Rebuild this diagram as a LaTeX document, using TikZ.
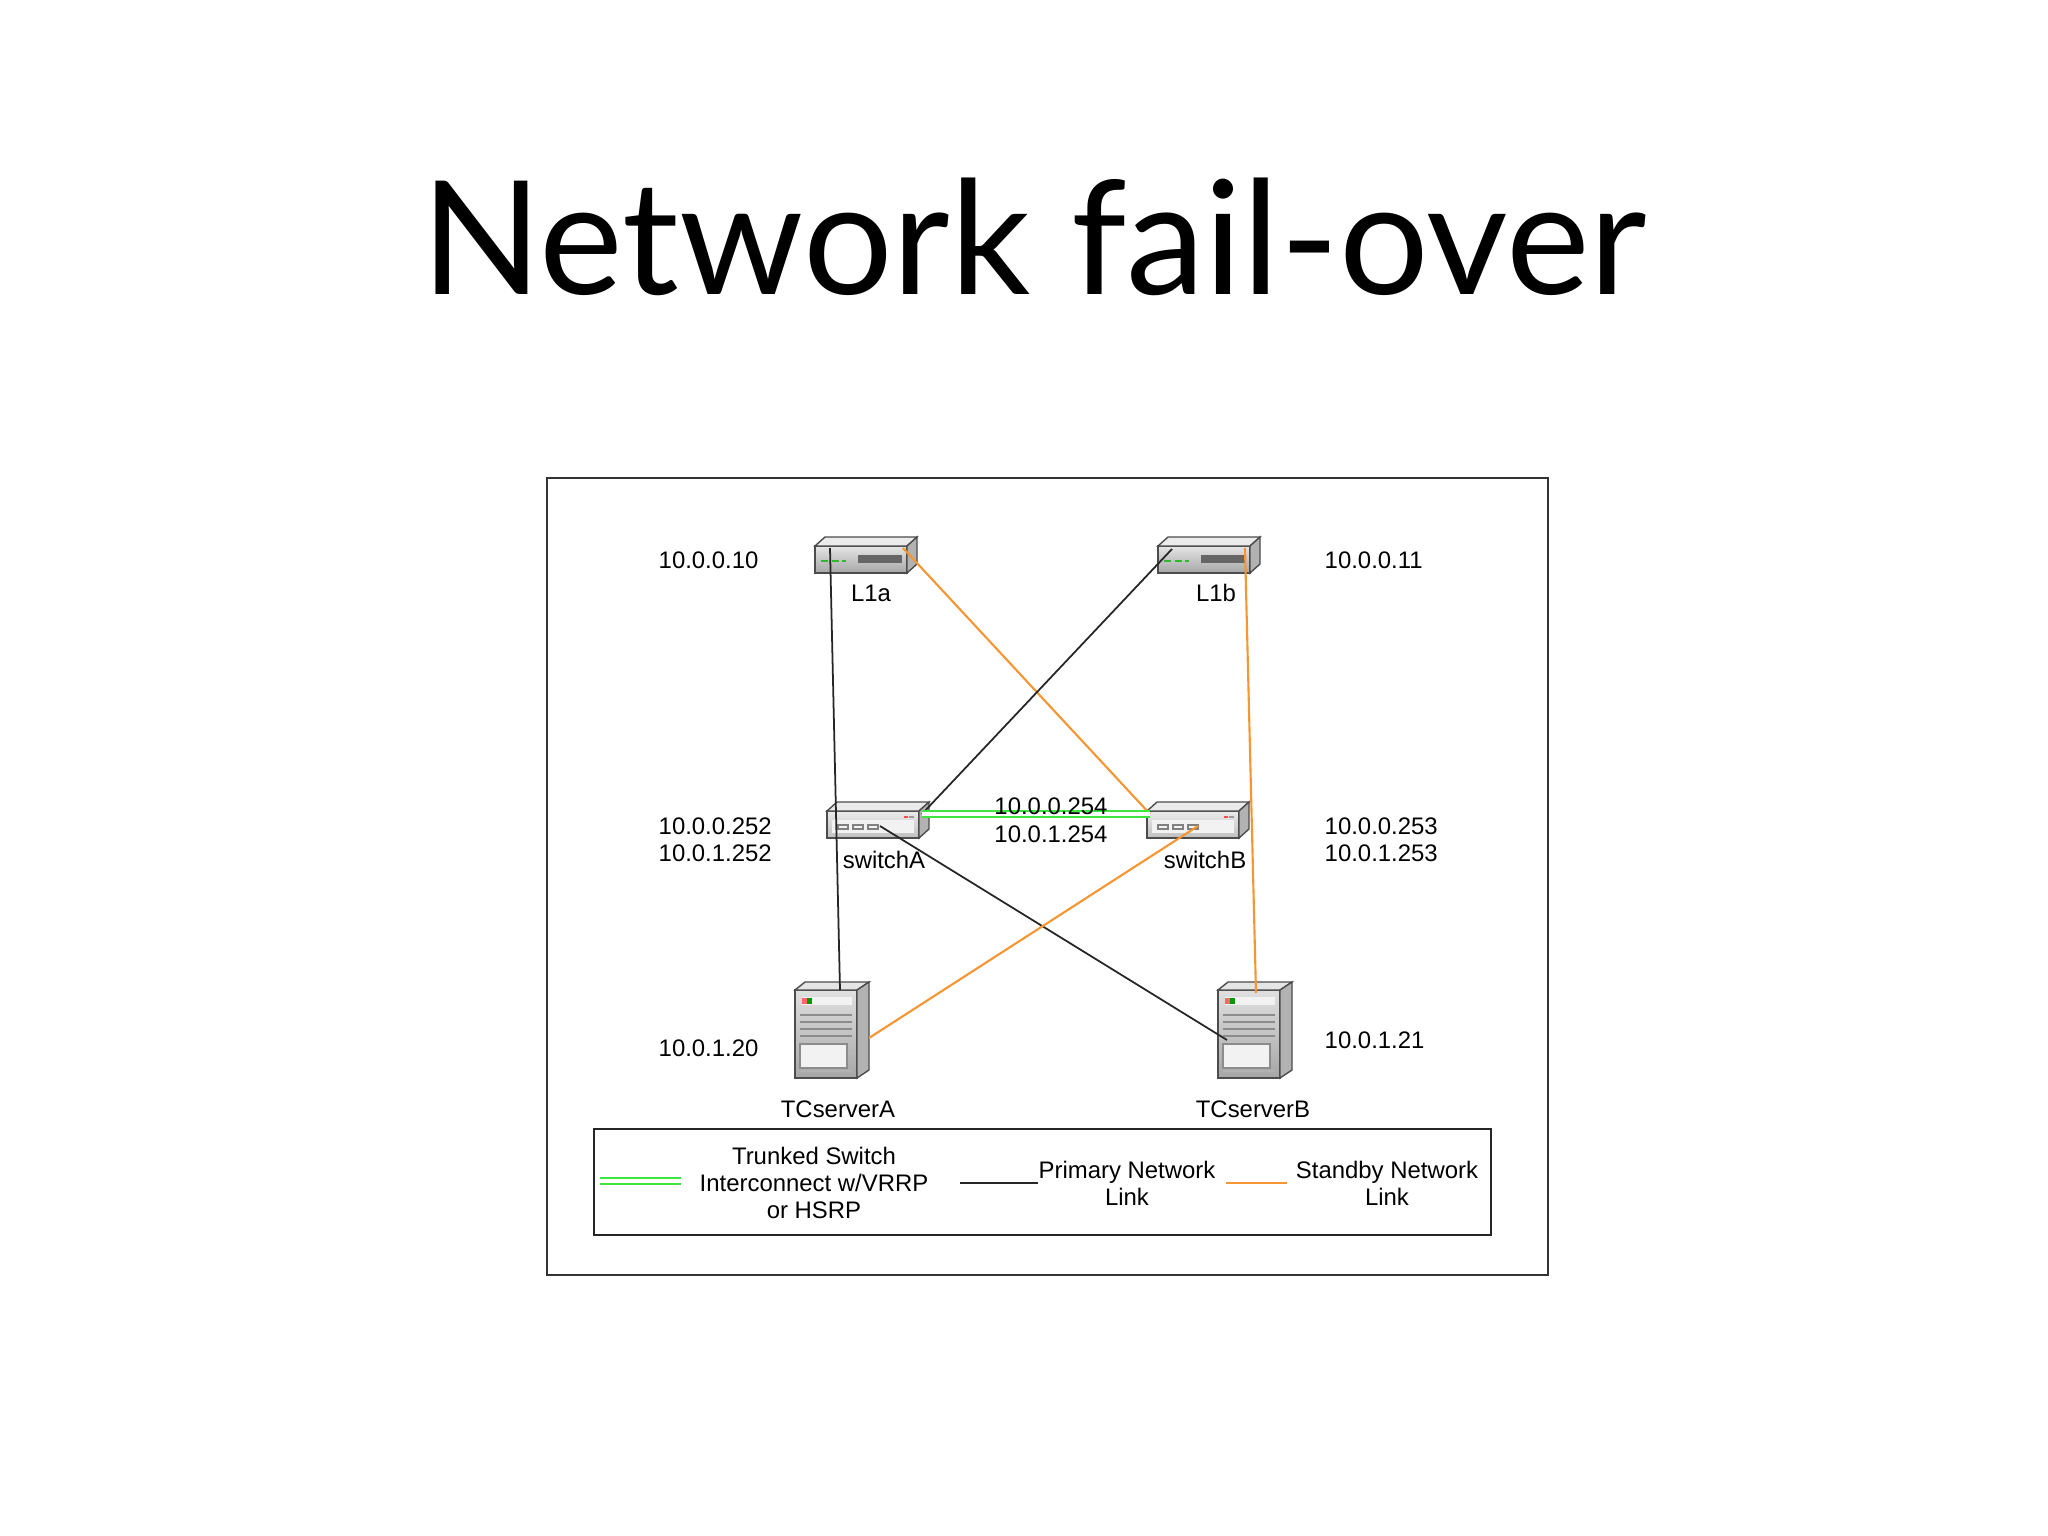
\documentclass[tikz,border=0pt]{standalone}
\usepackage{fontspec}
\setmainfont{Liberation Sans}
\newfontfamily\titlefont{Lato}
\usetikzlibrary{calc}
\definecolor{stdby}{RGB}{245,150,50}
\definecolor{trunk}{RGB}{60,230,60}
\tikzset{
  primary/.style={draw=black!85, line width=0.5pt},
  standby/.style={draw=stdby, line width=0.6pt},
  lbl/.style={font=\fontsize{6.8}{7.6}\selectfont, inner sep=0pt},
  ip/.style={lbl, anchor=west, align=left},
  face/.style={draw=black!70, line width=0.4pt},
  pics/router/.style={code={
    \path[face, top color=black!10, bottom color=black!35] (-51,-8) rectangle (41,19);
    \path[face, fill=black!8] (-51,-8)--(-41,-17)--(51,-17)--(41,-8)--cycle;
    \path[face, fill=black!30] (41,-8)--(51,-17)--(51,10)--(41,19)--cycle;
    \draw[trunk!80!black, line width=0.8pt, dash pattern=on 2pt off 1pt] (-45,7)--(-20,7);
    \fill[black!60] (-8,1) rectangle (36,9);
  }},
  pics/switch/.style={code={
    \path[face, top color=black!8, bottom color=black!25] (-51,-8) rectangle (41,19);
    \path[face, fill=black!8] (-51,-8)--(-41,-17)--(51,-17)--(41,-8)--cycle;
    \path[face, fill=black!30] (41,-8)--(51,-17)--(51,10)--(41,19)--cycle;
    \fill[black!5] (-46,1) rectangle (36,14);
    \foreach \p in {-40,-25,-10} \draw[black!50] (\p,6) rectangle (\p+10,10);
    \fill[red!70] (26,-3) rectangle (30,-1);
    \fill[black!40] (31,-3) rectangle (36,-1);
  }},
  pics/server/.style={code={
    \path[face, top color=black!12, bottom color=black!35] (-37,-40) rectangle (25,48);
    \path[face, fill=black!10] (-37,-40)--(-27,-48)--(37,-48)--(25,-40)--cycle;
    \path[face, fill=black!30] (25,-40)--(37,-48)--(37,40)--(25,48)--cycle;
    \fill[black!5] (-30,-33) rectangle (20,-25);
    \fill[red!60] (-30,-32) rectangle (-25,-26);
    \fill[green!60!black] (-25,-32) rectangle (-20,-26);
    \foreach \q in {-15,-8,-1,6} \draw[black!45] (-32,\q)--(20,\q);
    \draw[black!45, fill=black!5] (-32,14) rectangle (15,38);
    \draw[black!30] (-32,41)--(20,41);
  }},
}
\begin{document}
\begin{tikzpicture}[x=0.01cm, y=-0.01cm]
\useasboundingbox (0,0) rectangle (2048,1536);
\fill[white] (0,0) rectangle (2048,1536);

\node[font=\titlefont\fontsize{45}{50}\selectfont, inner sep=0pt] (title) at (1034,237) {Network fail-over};

\draw[black!80, line width=0.6pt] (547,478) rectangle (1548,1275);

% devices
\pic at (866,554) {router};
\pic at (1209,554) {router};
\pic at (878,819) {switch};
\pic at (1198,819) {switch};
\pic at (832,1030) {server};
\pic at (1255,1030) {server};

\node[lbl] (l1a) at (871,593) {L1a};
\node[lbl] (l1b) at (1216,593) {L1b};
\node[lbl] (swa) at (884,860) {switchA};
\node[lbl] (swb) at (1205,860) {switchB};
\node[lbl] (tca) at (838,1109) {TCserverA};
\node[lbl] (tcb) at (1253,1109) {TCserverB};

% link end points
\coordinate (a1) at (830,548);
\coordinate (a2) at (903,548);
\coordinate (b1) at (1172,549);
\coordinate (b2) at (1245,548);
\coordinate (sa1) at (922,814);
\coordinate (sa2) at (880,826);
\coordinate (sb1) at (1150,814);
\coordinate (sb2) at (1198,826);
\coordinate (ta1) at (840,990);
\coordinate (ta2) at (869,1038);
\coordinate (tb1) at (1227,1040);
\coordinate (tb2) at (1256,993);

\draw[primary] (a1) -- (ta1);
\draw[standby] (a2) -- (sb1);
\draw[primary] (b1) -- (sa1);
\draw[standby] (b2) -- (tb2);
\draw[primary] (sa2) -- (tb1);
\draw[standby] (sb2) -- (ta2);
\draw[trunk, double=white, double distance=1.2pt, line width=0.6pt] (sa1) -- (sb1);

\node[lbl] (ip254a) at (1051,806) {10.0.0.254};
\node[lbl] (ip254b) at (1051,834) {10.0.1.254};

\node[ip] (ipl1a) at (658,560) {10.0.0.10};
\node[ip] (ipswa) at (658,840) {10.0.0.252\\[0pt]10.0.1.252};
\node[ip] (iptca) at (658,1048) {10.0.1.20};
\node[ip] (ipl1b) at (1324,560) {10.0.0.11};
\node[ip] (ipswb) at (1324,840) {10.0.0.253\\[0pt]10.0.1.253};
\node[ip] (iptcb) at (1324,1040) {10.0.1.21};

% legend
\draw[black!85, line width=0.6pt] (594,1129) rectangle (1491,1235);
\coordinate (lg1) at (600,1181);
\coordinate (lg2) at (681,1181);
\draw[trunk, double=white, double distance=1.2pt, line width=0.6pt] (lg1) -- (lg2);
\node[lbl, align=center] (lgt) at (814,1183) {Trunked Switch\\Interconnect w/VRRP\\or HSRP};
\coordinate (lp1) at (960,1183);
\coordinate (lp2) at (1038,1183);
\draw[primary] (lp1) -- (lp2);
\node[lbl, align=center] (lgp) at (1127,1183) {Primary Network\\Link};
\coordinate (ls1) at (1226,1183);
\coordinate (ls2) at (1287,1183);
\draw[standby] (ls1) -- (ls2);
\node[lbl, align=center] (lgs) at (1387,1183) {Standby Network\\Link};
\end{tikzpicture}
\end{document}
